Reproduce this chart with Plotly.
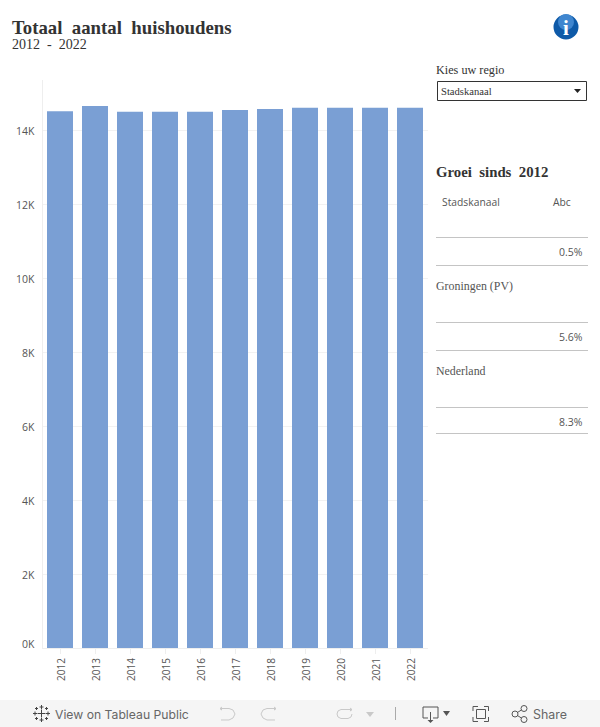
import plotly.graph_objects as go

years = ["2012","2013","2014","2015","2016","2017","2018","2019","2020","2021","2022"]
households = [14510,14650,14490,14490,14490,14540,14570,14600,14600,14600,14600]
y_ticks = [0,2000,4000,6000,8000,10000,12000,14000]
y_labels = ["0K","2K","4K","6K","8K","10K","12K","14K"]
growth_regions = ["Groningen (PV)","Nederland"]
growth_values = ["0.5%","5.6%","8.3%"]

W, H = 600, 727
def px(x): return x / W
def py(y): return 1 - y / H

SERIF = "Liberation Serif, Times New Roman, serif"
SANS = "Open Sans, Noto Sans, sans-serif"
UI = "Inter, Open Sans, sans-serif"
DARK = "#333333"
NB = "\u00a0"

fig = go.Figure(go.Bar(x=years, y=households, marker_color="#7a9fd4", marker_line_width=0,
                       width=0.743, hoverinfo="skip"))

shapes, ann = [], []
def text(x, y, s, size, color=DARK, family=SERIF, anchor="left", bold=False):
    if bold: s = f"<b>{s}</b>"
    ann.append(dict(x=px(x), y=py(y), xref="paper", yref="paper", text=s, showarrow=False,
                    xanchor=anchor, yanchor="middle", align=anchor,
                    font=dict(size=size, color=color, family=family), xshift=0, yshift=0,
                    borderpad=0, borderwidth=0))
def line(x0, y0, x1, y1, color="#c4c4c4", w=1):
    shapes.append(dict(type="line", xref="paper", yref="paper", x0=px(x0), x1=px(x1), y0=py(y0), y1=py(y1),
                       line=dict(color=color, width=w), layer="above"))
def path(points, color="#999999", w=1, close=False, fill=None):
    d = "M" + " L".join(f"{px(a):.5f},{py(b):.5f}" for a, b in points) + (" Z" if close else "")
    s = dict(type="path", xref="paper", yref="paper", path=d, line=dict(color=color, width=w), layer="above")
    if fill: s["fillcolor"] = fill
    shapes.append(s)
def rect(x0, y0, x1, y1, fill=None, color=None, w=0):
    s = dict(type="rect", xref="paper", yref="paper", x0=px(x0), x1=px(x1), y0=py(y0), y1=py(y1),
             line=dict(color=color or "rgba(0,0,0,0)", width=w), layer="above")
    if fill: s["fillcolor"] = fill
    shapes.append(s)
def circle(cx, cy, r, fill=None, color=None, w=1):
    s = dict(type="circle", xref="paper", yref="paper", x0=px(cx-r), x1=px(cx+r), y0=py(cy-r), y1=py(cy+r),
             line=dict(color=color or "rgba(0,0,0,0)", width=w), layer="above")
    if fill: s["fillcolor"] = fill
    shapes.append(s)

# y tick labels: the data scale places them, the lowest one sits above the baseline
for v, lab in zip(y_ticks, y_labels):
    ann.append(dict(x=px(35.5), xref="paper", y=v, yref="y", text=lab, showarrow=False,
                    xanchor="right", yanchor="middle", borderpad=0,
                    yshift=4 if v == 0 else -1,
                    font=dict(size=10.5, color="#555555", family=SANS)))

# titles
text(12, 27, f"Totaal{NB}{NB}aantal{NB}{NB}huishoudens", 18.8, bold=True)
text(12, 44, f"2012{NB}{NB}-{NB}{NB}2022", 14)

# info icon
circle(566, 27, 12.5, fill="#0e5aa8")
circle(566, 22, 8, fill="#3f86cf")
text(566, 28, "i", 21, color="#ffffff", family=SERIF, anchor="center", bold=True)

# filter
text(436, 70, f"Kies{NB}uw{NB}regio", 12.2)
rect(437.5, 81.5, 586.5, 100.5, fill="#ffffff", color="#333333", w=1)
text(441, 91, "Stadskanaal", 10.6)
path([(574,89),(581,89),(577.5,93)], color="#222222", w=0, close=True, fill="#222222")

# growth panel
text(436, 172, f"Groei{NB}{NB}sinds{NB}{NB}2012", 14.8, bold=True)
text(442, 202, "Stadskanaal", 10.3, color="#555555", family=SANS)
text(553, 202, "Abc", 10.3, color="#555555", family=SANS)
for y in (237.5, 265.5, 322.5, 350.5, 407.5, 433.5):
    line(436, y, 588, y)
for y, v in zip((252, 337, 422), growth_values):
    text(583, y, v, 10.5, color="#555555", family=SANS, anchor="right")
for y, r in zip((286, 371), growth_regions):
    text(436, y, r.replace(" ", NB), 11.9, color="#555555")

# toolbar
rect(0, 700, 600, 727, fill="#f5f5f5")
tb = "#555555"
for cx, cy, a in [(41.5,713.5,4),(35,713.5,2),(48,713.5,2),(41.5,707,2),(41.5,720,2),
                  (36.5,708.5,1.5),(46.5,708.5,1.5),(36.5,718.5,1.5),(46.5,718.5,1.5)]:
    line(cx-a, cy, cx+a, cy, color="#444444", w=1)
    line(cx, cy-a, cx, cy+a, color="#444444", w=1)
text(55, 714, "View on Tableau Public", 12.2, color="#666666", family=UI)
g = "#c9c9c9"
path([(222,707),(220,708.5),(222,710),(220,708.5),(229,708.5),(233,710),(235,714),(233,718),(229,720),(221,720)], color=g)
path([(274,707),(276,708.5),(274,710),(276,708.5),(267,708.5),(263,710),(261,714),(263,718),(267,720),(275,720)], color=g)
path([(350,708),(352,709.5),(350,711),(352,709.5),(341,709.5),(338,711),(337,714),(338,717),(341,718.5),(348,718.5),(351,717),(352,714)], color=g)
path([(366,712),(374,712),(370,717)], color=g, w=0, close=True, fill=g)
line(395.5, 707, 395.5, 720, color="#aaaaaa")
path([(428,718),(423,718),(423,707),(438,707),(438,718),(433,718)], color=tb)
line(430.5, 712, 430.5, 722, color=tb)
path([(427.5,720),(433.5,720),(430.5,723)], color=tb, w=0, close=True, fill=tb)
path([(443,711),(450,711),(446.5,716)], color=tb, w=0, close=True, fill=tb)
for pts in ([(473,711),(473,706.5),(478,706.5)],[(484,706.5),(488.5,706.5),(488.5,711)],
            [(488.5,717),(488.5,721.5),(484,721.5)],[(478,721.5),(473,721.5),(473,717)]):
    path(pts, color=tb)
rect(476.5, 709.5, 485.5, 718.5, color=tb, w=1)
circle(515, 714, 3, color=tb); circle(524, 708.5, 3, color=tb); circle(524, 719.5, 3, color=tb)
line(517.6, 712.4, 521.4, 710); line(517.6, 715.6, 521.4, 718)
shapes[-1]["line"]["color"] = tb; shapes[-2]["line"]["color"] = tb
text(533, 714, "Share", 12.4, color="#666666", family=UI)

fig.update_layout(
    width=W, height=H, margin=dict(l=0, r=0, t=0, b=0, autoexpand=False), showlegend=False,
    paper_bgcolor="#ffffff", plot_bgcolor="#ffffff",
    xaxis=dict(domain=[px(42.5), px(427.5)], type="category", tickangle=-90, ticks="outside", ticklen=5,
               tickcolor="#eeeeee", showline=True, linecolor="#eeeeee", showgrid=False, automargin=False,
               ticklabelshift=2, tickfont=dict(size=10, color="#555555", family=SANS), fixedrange=True),
    yaxis=dict(domain=[py(648), py(80)], range=[0, 568/0.037], tickvals=y_ticks, showticklabels=False,
               ticks="", showgrid=True, gridcolor="#f2f2f2", gridwidth=1, zeroline=False, automargin=False,
               showline=True, linecolor="#eeeeee", fixedrange=True),
    shapes=shapes, annotations=ann,
)
fig.write_html("out.html", config=dict(displayModeBar=False),
               post_script="document.documentElement.style.margin='0';document.body.style.margin='0';document.body.style.overflow='hidden';")
